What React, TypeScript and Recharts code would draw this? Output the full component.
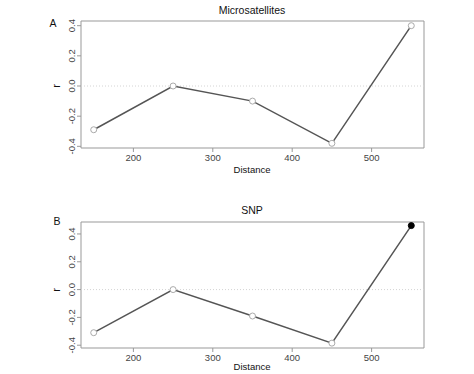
import React from 'react';
import {
  LineChart,
  Line,
  XAxis,
  YAxis,
  ReferenceLine,
  ReferenceArea,
} from 'recharts';

const distances = [150, 250, 350, 450, 550];
const microsatR = [-0.29, 0.0, -0.1, -0.38, 0.4];
const snpR = [-0.31, 0.0, -0.19, -0.385, 0.46];
const snpSignificant = [false, false, false, false, true];
const xTicks = [200, 300, 400, 500];
const yTicks = [-0.4, -0.2, 0.0, 0.2, 0.4];

const FONT = '"Liberation Sans", Arial, sans-serif';

const YTick = ({ x, y, payload }: any) => (
  <text
    x={x + 2}
    y={y}
    transform={`rotate(-90 ${x + 2} ${y})`}
    textAnchor="middle"
    fontSize={9.5}
    fontFamily={FONT}
    fill="#444"
  >
    {Number(payload.value).toFixed(1)}
  </text>
);

const makeDot = (filled: boolean[]) => (props: any) => {
  const { cx, cy, index } = props;
  const solid = filled[index];
  return (
    <circle
      key={`d-${index}`}
      cx={cx}
      cy={cy}
      r={3}
      fill={solid ? '#000' : '#fff'}
      stroke={solid ? '#000' : '#aaa'}
      strokeWidth={1}
    />
  );
};

interface PanelProps {
  values: number[];
  filled: boolean[];
  yDomain: [number, number];
  top: number;
  bottom: number;
}

const Panel: React.FC<PanelProps> = ({ values, filled, yDomain, top, bottom }) => {
  const data = distances.map((d, i) => ({ distance: d, r: values[i] }));
  return (
    <LineChart
      width={474}
      height={187}
      data={data}
      margin={{ top, right: 50, bottom: 0, left: 0 }}
    >
      <XAxis
        dataKey="distance"
        type="number"
        domain={[134, 566]}
        ticks={xTicks}
        allowDataOverflow
        axisLine={false}
        tickSize={4}
        tickMargin={2}
        height={bottom}
        tickLine={{ stroke: '#999' }}
        tick={{ fontSize: 9.5, fontFamily: FONT, fill: '#444' }}
      />
      <YAxis
        type="number"
        domain={yDomain}
        ticks={yTicks}
        allowDataOverflow
        axisLine={false}
        width={81}
        tickSize={4}
        tickMargin={4}
        tickLine={{ stroke: '#999' }}
        tick={<YTick />}
      />
      <ReferenceArea
        x1={134}
        x2={566}
        y1={yDomain[0]}
        y2={yDomain[1]}
        fill="none"
        stroke="#999"
        strokeWidth={1}
      />
      <ReferenceLine y={0} stroke="#d4d4d4" strokeDasharray="1 2" />
      <Line
        dataKey="r"
        stroke="#555"
        strokeWidth={1.5}
        dot={makeDot(filled)}
        isAnimationActive={false}
      />
    </LineChart>
  );
};

const Txt = ({ x, y, size, rotate, children }: any) => (
  <div
    style={{
      position: 'absolute',
      left: x,
      top: y,
      transform: `translate(-50%, -50%)${rotate ? ` rotate(${rotate}deg)` : ''}`,
      fontSize: size,
      fontFamily: FONT,
      color: '#111',
      whiteSpace: 'nowrap',
      lineHeight: 1,
    }}
  >
    {children}
  </div>
);

export default function App() {
  return (
    <div
      style={{
        position: 'absolute',
        left: 0,
        top: 0,
        width: 474,
        height: 374,
        background: '#fff',
        overflow: 'hidden',
      }}
    >
      <div style={{ position: 'absolute', left: 0, top: 0 }}>
        <Panel values={microsatR} filled={[false, false, false, false, false]} yDomain={[-0.411, 0.431]} top={21} bottom={39} />
      </div>
      <div style={{ position: 'absolute', left: 0, top: 187 }}>
        <Panel values={snpR} filled={snpSignificant} yDomain={[-0.42, 0.486]} top={35} bottom={26} />
      </div>
      <Txt x={252} y={10} size={10.5}>Microsatellites</Txt>
      <Txt x={252} y={170} size={9.5}>Distance</Txt>
      <Txt x={53} y={23} size={10.5}>A</Txt>
      <Txt x={56} y={86} size={11} rotate={-90}>r</Txt>
      <Txt x={252} y={210} size={10.5}>SNP</Txt>
      <Txt x={252} y={367} size={9.5}>Distance</Txt>
      <Txt x={57} y={221} size={10.5}>B</Txt>
      <Txt x={56} y={290} size={11} rotate={-90}>r</Txt>
    </div>
  );
}
